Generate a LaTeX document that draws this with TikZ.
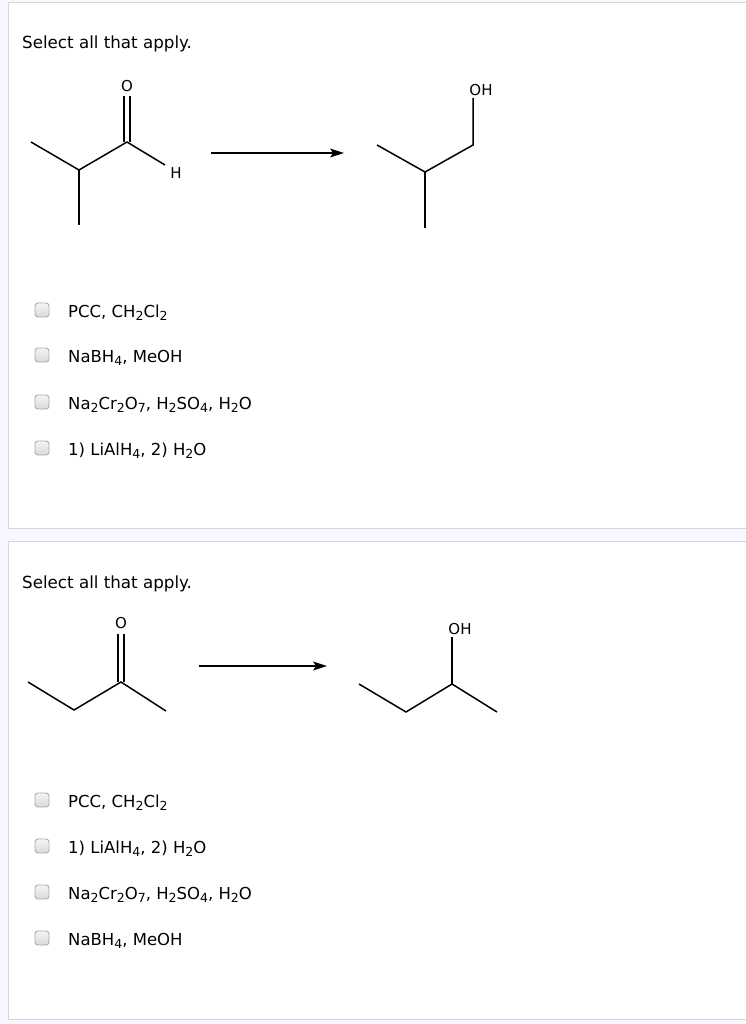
\documentclass[tikz,border=0pt]{standalone}
\usepackage{fontspec}
\setmainfont{DejaVu Sans}
\newcommand{\sbs}[1]{\raisebox{-0.35ex}{\fontsize{12.5}{13}\selectfont #1}}
\begin{document}
\begin{tikzpicture}[x=1pt,y=-1pt,
  bond/.style={line width=1.5pt},
  lbl/.style={font=\fontsize{15}{16}\selectfont,inner sep=0pt},
  txt/.style={font=\fontsize{16.5}{18}\selectfont,anchor=west,inner sep=0pt},
  qtxt/.style={font=\fontsize{16.7}{18}\selectfont,anchor=west,inner sep=0pt},
  cbox/.style={draw=gray!65,top color=gray!8,bottom color=gray!30,rounded corners=3pt,minimum size=14pt,inner sep=0pt,line width=0.9pt},
  panel/.style={draw=blue!8!gray!30,fill=white,line width=0.8pt},
  arr/.style={line width=1.3pt},
  head/.style={fill=black}]
\fill[blue!3] (0,0) rectangle (745,1024);
\useasboundingbox (0,0) rectangle (745,1024);
\draw[panel] (8,2) rectangle (760,528);
\draw[panel] (8,541) rectangle (760,1019);
% Panel 1
\node[qtxt] (q1) at (22,44) {Select all that apply.};
\coordinate (a1) at (31,142); \coordinate (a2) at (79,170); \coordinate (a3) at (79,225);
\coordinate (a4) at (127,142); \coordinate (a5) at (165,165);
\node[lbl] (o1) at (127,86) {O};
\node[lbl] (h1) at (176,173) {H};
\draw[bond] (a1)--(a2)--(a4)--(a5); \draw[bond] (a2)--(a3);
\draw[bond] (124,142)--(124,96); \draw[bond] (130,142)--(130,96);
\coordinate (r1s) at (211,153); \coordinate (r1e) at (344,153);
\draw[arr] (r1s)--([xshift=-8pt]r1e);
\fill[head] (r1e) -- ++(-14,-4.5) -- ++(3,4.5) -- ++(-3,4.5) -- cycle;
\coordinate (b1) at (377,145); \coordinate (b2) at (425,172); \coordinate (b3) at (425,228);
\coordinate (b4) at (473,145); \coordinate (b5) at (473,98);
\node[lbl] (oh1) at (481,90) {OH};
\draw[bond] (b1)--(b2)--(b4)--(b5); \draw[bond] (b2)--(b3);
\foreach \y/\t [count=\i] in {313/{PCC, CH\sbs{2}Cl\sbs{2}}, 358/{NaBH\sbs{4}, MeOH}, 405/{Na\sbs{2}Cr\sbs{2}O\sbs{7}, H\sbs{2}SO\sbs{4}, H\sbs{2}O}, 451/{1) LiAlH\sbs{4}, 2) H\sbs{2}O}}{
  \node[cbox] (c1\i) at (42,\y-3) {};
  \node[txt] (t1\i) at (68,\y) {\t};
}
% Panel 2
\node[qtxt] (q2) at (22,584) {Select all that apply.};
\coordinate (d1) at (28,682); \coordinate (d2) at (74,710); \coordinate (d3) at (121,682); \coordinate (d4) at (166,711);
\draw[bond] (d1)--(d2)--(d3)--(d4);
\draw[bond] (118,682)--(118,634); \draw[bond] (124,682)--(124,634);
\node[lbl] (o2) at (121,623) {O};
\coordinate (r2s) at (199,666); \coordinate (r2e) at (327,666);
\draw[arr] (r2s)--([xshift=-8pt]r2e);
\fill[head] (r2e) -- ++(-14,-4.5) -- ++(3,4.5) -- ++(-3,4.5) -- cycle;
\coordinate (e1) at (359,684); \coordinate (e2) at (406,712); \coordinate (e3) at (452,684); \coordinate (e4) at (497,712); \coordinate (e5) at (452,637);
\draw[bond] (e1)--(e2)--(e3)--(e4); \draw[bond] (e3)--(e5);
\node[lbl] (oh2) at (460,629) {OH};
\foreach \y/\t [count=\i] in {803/{PCC, CH\sbs{2}Cl\sbs{2}}, 849/{1) LiAlH\sbs{4}, 2) H\sbs{2}O}, 895/{Na\sbs{2}Cr\sbs{2}O\sbs{7}, H\sbs{2}SO\sbs{4}, H\sbs{2}O}, 941/{NaBH\sbs{4}, MeOH}}{
  \node[cbox] (c2\i) at (42,\y-3) {};
  \node[txt] (t2\i) at (68,\y) {\t};
}
\end{tikzpicture}
\end{document}
